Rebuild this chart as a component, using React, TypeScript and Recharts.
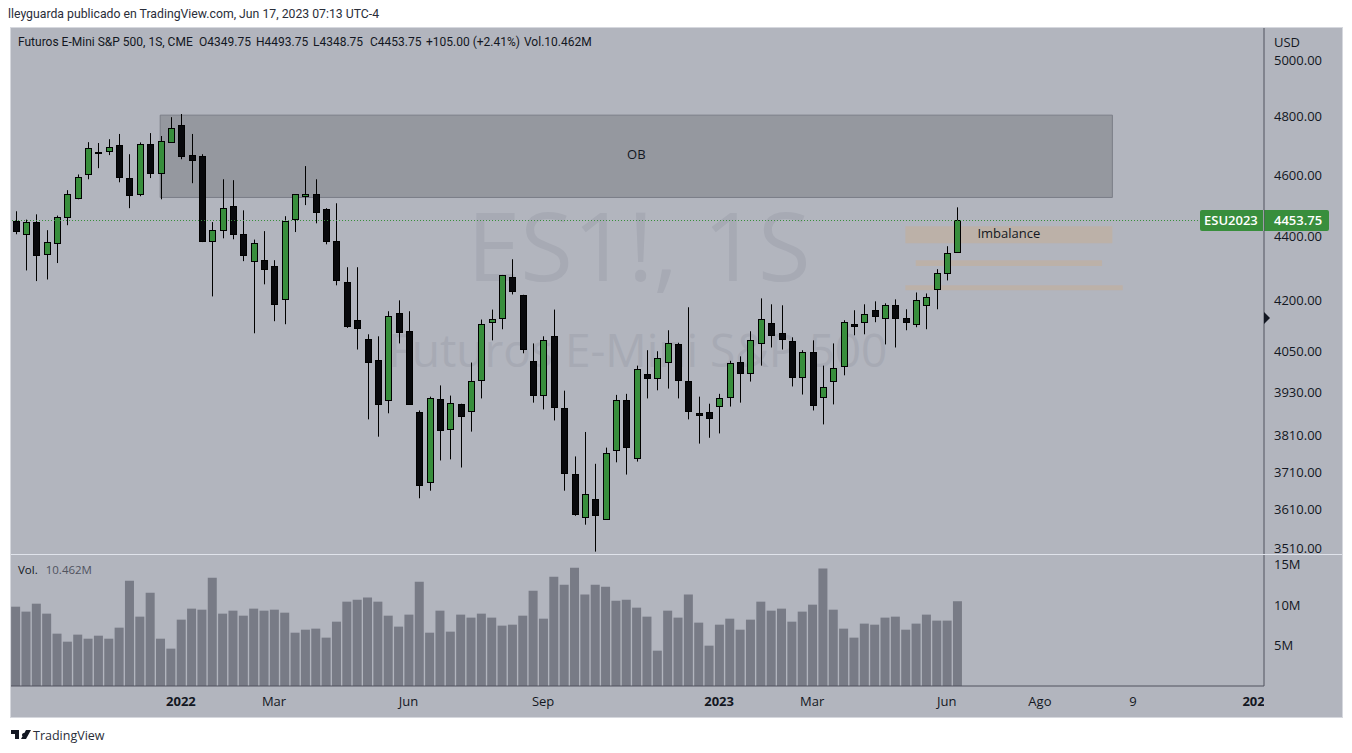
import React from 'react';
import { Bar, BarChart, ReferenceArea, ReferenceLine, XAxis, YAxis } from 'recharts';

const opens = [
  4451, 4408, 4445, 4345, 4379, 4463, 4525, 4604, 4676, 4682,
  4700, 4589, 4538, 4703, 4607, 4712, 4769, 4669, 4663, 4386,
  4421, 4497, 4409, 4323, 4327, 4308, 4205, 4456, 4531, 4536,
  4487, 4387, 4258, 4143, 4086, 4024, 3908, 4164, 4110, 3875,
  3682, 3912, 3827, 3898, 3877, 3965, 4136, 4148, 4274, 4218,
  4021, 3924, 4095, 3887, 3705, 3590, 3638, 3587, 3769, 3909,
  3747, 3983, 3971, 4017, 4071, 3963, 3873, 3875, 3891, 3916,
  4018, 3985, 4073, 4134, 4104, 4080, 3974, 4048, 3916, 3962,
  4005, 4131, 4136, 4173, 4148, 4188, 4149, 4130, 4187, 4235,
  4285, 4349.75,
];
const highs = [
  4481, 4454, 4471, 4420, 4467, 4550, 4602, 4711, 4708, 4721,
  4739, 4670, 4710, 4742, 4732, 4797, 4808, 4739, 4670, 4446,
  4586, 4583, 4484, 4390, 4417, 4325, 4465, 4536, 4630, 4586,
  4491, 4507, 4303, 4303, 4099, 4093, 4168, 4201, 4168, 3879,
  3918, 3950, 3921, 3898, 4016, 4143, 4173, 4279, 4328, 4218,
  4072, 4093, 4173, 3935, 3752, 3819, 3732, 3776, 3923, 3926,
  4007, 4052, 4049, 4111, 4074, 4180, 3918, 3898, 3926, 4021,
  4034, 4108, 4207, 4189, 4186, 4090, 4052, 4081, 4007, 4072,
  4141, 4171, 4189, 4198, 4192, 4204, 4174, 4225, 4222, 4297,
  4369, 4493.75,
];
const lows = [
  4407, 4293, 4260, 4265, 4316, 4436, 4520, 4586, 4623, 4667,
  4576, 4491, 4530, 4590, 4520, 4712, 4653, 4573, 4382, 4213,
  4394, 4391, 4322, 4102, 4250, 4138, 4129, 4414, 4501, 4442,
  4375, 4247, 4118, 4054, 3854, 3806, 3871, 4072, 3897, 3640,
  3660, 3741, 3744, 3722, 3820, 3913, 4081, 4114, 4219, 4043,
  3901, 3882, 3851, 3660, 3594, 3571, 3502, 3587, 3736, 3703,
  3738, 3913, 3936, 3941, 3913, 3854, 3787, 3803, 3815, 3890,
  3901, 3961, 4007, 4060, 4054, 3947, 3924, 3879, 3840, 3896,
  3979, 4096, 4099, 4135, 4069, 4060, 4111, 4120, 4114, 4174,
  4262, 4348.75,
];
const closes = [
  4418, 4445, 4342, 4381, 4461, 4536, 4595, 4690, 4675, 4693,
  4594, 4534, 4703, 4607, 4714, 4758, 4665, 4651, 4386, 4422,
  4490, 4408, 4342, 4378, 4298, 4190, 4451, 4536, 4539, 4479,
  4386, 4263, 4124, 4118, 4017, 3897, 4155, 4106, 3897, 3675,
  3915, 3824, 3901, 3863, 3963, 4131, 4146, 4279, 4229, 4055,
  3922, 4083, 3888, 3707, 3598, 3652, 3595, 3762, 3909, 3777,
  3998, 3971, 4030, 4074, 3965, 3877, 3866, 3858, 3915, 4015,
  3985, 4083, 4146, 4097, 4085, 3974, 4048, 3895, 3946, 4001,
  4137, 4125, 4161, 4154, 4188, 4148, 4136, 4203, 4212, 4286,
  4346, 4453.75,
];
// volume in millions
const volumes = [
  9.79, 9.18, 10.16, 8.93, 6.46, 5.47, 6.34, 5.84, 6.21, 5.84,
  7.2, 13.0, 8.56, 11.52, 5.84, 4.61, 8.19, 9.55, 9.42, 13.37,
  8.93, 9.3, 8.68, 9.55, 9.3, 9.42, 9.05, 6.58, 6.95, 7.08,
  5.97, 7.94, 10.41, 10.66, 10.91, 10.41, 8.68, 7.33, 8.81, 12.88,
  6.58, 9.3, 6.71, 8.81, 8.44, 8.93, 8.44, 7.45, 7.57, 8.68,
  11.77, 8.31, 13.5, 12.51, 14.61, 11.28, 12.51, 12.26, 10.53, 10.66,
  9.67, 8.56, 4.36, 9.3, 8.44, 11.28, 7.82, 4.98, 7.57, 8.31,
  6.95, 8.19, 10.41, 9.3, 9.55, 7.94, 9.18, 10.04, 14.49, 9.42,
  7.08, 5.97, 7.7, 7.57, 8.44, 8.56, 6.95, 7.7, 8.81, 8.07,
  8.07, 10.462,
];

const priceTicks = [3510, 3610, 3710, 3810, 3930, 4050, 4200, 4400, 4600, 4800, 5000];
const volumeTicks = [5, 10, 15];
const timeTicks = [16, 25, 38, 51, 68, 77, 90, 99, 108, 120];
const timeLabels = ['2022', 'Mar', 'Jun', 'Sep', '2023', 'Mar', 'Jun', 'Ago', '9', '2024'];
const boldLabels = ['2022', '2023', '2024'];

const legendParts = ['Futuros E-Mini S&P 500, 1S, CME', 'O4349.75', 'H4493.75', 'L4348.75', 'C4453.75', '+105.00 (+2.41%)', 'Vol.10.462M'];
const legendLefts = [18, 199, 256, 313, 370, 426, 524];

const lastPrice = 4453.75;
const orderBlock = { from: 14, to: 106, top: 4804, bottom: 4526 };
const imbalances = [
  { from: 86, to: 106, top: 4433, bottom: 4378, label: 'Imbalance' },
  { from: 87, to: 105, top: 4325, bottom: 4307, label: '' },
  { from: 86, to: 107, top: 4247, bottom: 4232, label: '' },
];

const candles = opens.map((open, i) => ({
  i,
  open,
  close: closes[i],
  high: highs[i],
  low: lows[i],
  range: [lows[i], highs[i]],
  volume: volumes[i],
}));

const FONT = '"Open Sans", "Noto Sans", sans-serif';
const TEXT_FONT = 'Roboto, "Open Sans", sans-serif';
const BG = '#b2b5be';
const INK = '#131722';
const GREEN = '#388e3c';
const xDomain = [-0.415, 120.65];

// the bar spans low..high, the body is placed inside it on the same log scale
const Candle = ({ x, y, width, height, payload }: any) => {
  const { open, close, high, low } = payload;
  const up = close >= open;
  const span = Math.log(high / low);
  const toY = (v: number) => y + (height * Math.log(high / v)) / span;
  const cx = Math.round(x + width / 2) + 0.5;
  const top = Math.round(toY(Math.max(open, close))) + 0.5;
  const bottom = Math.round(toY(Math.min(open, close))) + 0.5;
  return (
    <g>
      <line x1={cx} x2={cx} y1={y} y2={y + height} stroke="#000" strokeWidth={1} />
      <rect
        x={cx - 3}
        y={top}
        width={6}
        height={Math.max(bottom - top, 1)}
        fill={up ? GREEN : '#08090c'}
        stroke="#000"
        strokeWidth={1}
      />
    </g>
  );
};

// snapped to a pixel row so the dots stay green
const PriceLine = ({ x1, x2, y1 }: any) => {
  const y = Math.round(y1) + 0.5;
  return <line x1={x1} x2={x2} y1={y} y2={y} stroke={GREEN} strokeWidth={1} strokeDasharray="1 2" />;
};

const PriceTag = ({ viewBox }: any) => {
  const right = viewBox.x + viewBox.width;
  const y = Math.round(viewBox.y);
  return (
    <g fontFamily={FONT} fontSize={13} fontWeight={600} fill="#fff">
      <rect x={right - 64} y={y - 10} width={129} height={21} rx={2} fill={GREEN} />
      <line x1={right - 0.5} x2={right - 0.5} y1={y - 10} y2={y + 11} stroke="#e8eaee" />
      <text x={right - 60} y={y + 5}>ESU2023</text>
      <text x={right + 10} y={y + 5}>{lastPrice.toFixed(2)}</text>
    </g>
  );
};

// last label runs under the price scale, so it gets cut at the axis
const TimeTick = ({ x, y, payload }: any) => {
  const label = timeLabels[timeTicks.indexOf(payload.value)];
  const bold = boldLabels.includes(label);
  return (
    <g>
      <clipPath id={`time-${payload.value}`}>
        <rect x={x - 40} y={y - 10} width={Math.min(80, 1264 - x + 40)} height={40} />
      </clipPath>
      <text
        x={x}
        y={y + 12}
        textAnchor="middle"
        fontFamily={FONT}
        fontSize={13}
        fontWeight={bold ? 700 : 400}
        fill={INK}
        clipPath={`url(#time-${payload.value})`}
      >
        {label}
      </text>
    </g>
  );
};

const abs = (left: number, top: number, extra: React.CSSProperties = {}): React.CSSProperties => ({
  position: 'absolute',
  left,
  top,
  whiteSpace: 'nowrap',
  fontFamily: FONT,
  ...extra,
});

export default function App() {
  return (
    <div style={{ position: 'absolute', left: 0, top: 0, width: 1352, height: 753, background: '#fff', overflow: 'hidden' }}>
      <div style={abs(8, 7, { fontSize: 12.25, color: '#2a2e39', fontFamily: TEXT_FONT })}>
        lleyguarda publicado en TradingView.com, Jun 17, 2023 07:13 UTC-4
      </div>

      <div style={{ position: 'absolute', left: 10, top: 27, width: 1331, height: 689, background: BG, border: '1px solid #d6d8de' }} />

      {/* watermark */}
      <div style={abs(467, 184, { fontSize: 96, lineHeight: '120px', color: '#a7aab4' })}>ES1!, 1S</div>
      <div style={abs(388, 319, { fontSize: 46, lineHeight: '60px', color: '#a7aab4' })}>Futuros E-Mini S&amp;P 500</div>

      <div style={{ position: 'absolute', left: 0, top: 0 }}>
        <BarChart width={1343} height={570} data={candles} margin={{ top: 28, right: 1, left: 11, bottom: 16 }} barSize={7}>
          <XAxis dataKey="i" type="number" domain={xDomain} allowDataOverflow hide />
          <YAxis
            orientation="right"
            width={78}
            scale="log"
            domain={[3496, 5117]}
            allowDataOverflow
            ticks={priceTicks}
            interval={0}
            tickFormatter={(v: number) => v.toFixed(2)}
            tick={{ fill: INK, fontSize: 13, fontFamily: FONT }}
            tickLine={false}
            tickMargin={4}
            axisLine={{ stroke: '#50535e' }}
          />
          <ReferenceArea
            x1={orderBlock.from}
            x2={orderBlock.to}
            y1={orderBlock.bottom}
            y2={orderBlock.top}
            fill="#95989f"
            fillOpacity={1}
            stroke="#7b7e87"
            label={{ value: 'OB', position: 'center', fill: INK, fontSize: 13, fontFamily: FONT, dy: -2 }}
          />
          {imbalances.map((box) => (
            <ReferenceArea
              key={box.top}
              x1={box.from}
              x2={box.to}
              y1={box.bottom}
              y2={box.top}
              fill="#bcb1a8"
              fillOpacity={1}
              stroke="none"
              label={box.label ? { value: box.label, position: 'center', fill: INK, fontSize: 13, fontFamily: FONT, dy: -1 } : undefined}
            />
          ))}
          <ReferenceLine y={lastPrice} shape={PriceLine} label={PriceTag} isFront />
          <Bar dataKey="range" shape={Candle} isAnimationActive={false} />
        </BarChart>
      </div>

      <div style={{ position: 'absolute', left: 0, top: 554 }}>
        <BarChart width={1343} height={163} data={candles} margin={{ top: 1, right: 1, left: 11, bottom: 0 }} barSize={9}>
          <XAxis
            dataKey="i"
            type="number"
            domain={xDomain}
            allowDataOverflow
            ticks={timeTicks}
            interval={0}
            height={31}
            tick={TimeTick}
            tickLine={false}
            axisLine={{ stroke: '#50535e' }}
          />
          <YAxis
            orientation="right"
            width={78}
            domain={[0, 16.17]}
            allowDataOverflow
            ticks={volumeTicks}
            interval={0}
            tickFormatter={(v: number) => `${v}M`}
            tick={{ fill: INK, fontSize: 13, fontFamily: FONT }}
            tickLine={false}
            tickMargin={4}
            axisLine={{ stroke: '#50535e' }}
          />
          <Bar dataKey="volume" fill="#787b86" isAnimationActive={false} />
        </BarChart>
      </div>

      <div style={{ position: 'absolute', left: 11, top: 554, width: 1331, height: 1, background: '#e0e3eb' }} />

      {legendParts.map((part, i) => (
        <div key={part} style={abs(legendLefts[i], 35, { fontSize: 12, color: INK, fontFamily: TEXT_FONT })}>
          {part}
        </div>
      ))}
      <div style={abs(1274, 33, { fontSize: 13, color: INK })}>USD</div>
      <div style={abs(18, 562, { fontSize: 11.5, color: INK })}>
        Vol.<span style={{ marginLeft: 8, color: '#50535e' }}>10.462M</span>
      </div>

      <svg style={{ position: 'absolute', left: 1264, top: 312 }} width={7} height={12}>
        <path d="M0 0 L6 6 L0 12 Z" fill={INK} />
      </svg>

      <svg style={{ position: 'absolute', left: 11, top: 729 }} width={20} height={12}>
        <path d="M0 1 H8 V10 H4 V5 H0 Z M13 4 a2 2 0 1 1 -0.01 0 Z M15 1 H20 L15 10 H10 Z" fill={INK} />
      </svg>
      <div style={abs(33, 727, { fontSize: 12.5, color: '#2a2e39' })}>TradingView</div>
    </div>
  );
}
